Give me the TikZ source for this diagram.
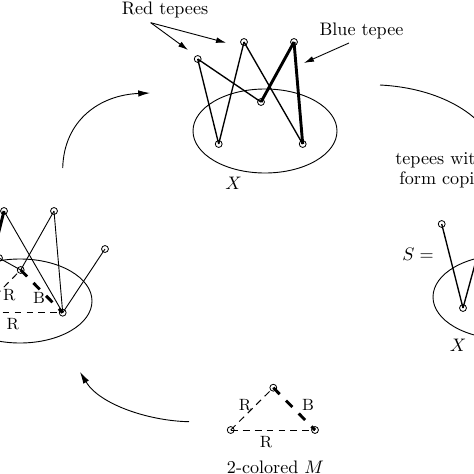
\documentclass[tikz,border=0pt]{standalone}
\usepackage{amsmath,amssymb}
\usetikzlibrary{arrows.meta}

\tikzset{
  vtx/.style={circle, draw, line width=0.45pt, inner sep=0pt, minimum size=3.8pt},
  redleg/.style={line width=0.75pt},
  thinleg/.style={line width=0.5pt},
  blueleg/.style={line width=1.6pt},
  redpair/.style={line width=0.55pt, dash pattern=on 3.8pt off 2.8pt},
  bluepair/.style={line width=1.6pt, dash pattern=on 5pt off 5pt},
  base/.style={line width=0.5pt},
  flow/.style={line width=0.5pt, -{Latex[length=6.5pt,width=3.6pt]}},
  pointer/.style={line width=0.5pt, -{Latex[length=5.5pt,width=3.2pt]}},
  lbl/.style={inner sep=0pt, anchor=base},
  col/.style={inner sep=0pt, anchor=base, font=\small},
}

\begin{document}
\begin{tikzpicture}[x=0.552pt, y=-0.552pt]
    \useasboundingbox (0,0) rectangle (474,474);
    \clip (0,0) rectangle (474,474);
    % Top: the tepees over X
    \draw[base] (265,131) ellipse (72 and 42);
    \node[vtx] (ta) at (197.7,59) {};
    \node[vtx] (tb) at (244,42) {};
    \node[vtx] (tc) at (294,42) {};
    \node[vtx] (td) at (261,102) {};
    \node[vtx] (te) at (218.7,144) {};
    \node[vtx] (tf) at (302.7,144) {};
    \draw[redleg] (ta.center) -- (te.center);
    \draw[redleg] (ta.center) -- (td.center);
    \draw[redleg] (tb.center) -- (te.center);
    \draw[redleg] (tb.center) -- (tf.center);
    \draw[blueleg] (tc.center) -- (td.center);
    \draw[blueleg] (tc.center) -- (tf.center);
    \node[lbl] (xtop) at (233.5,189) {$X$};
    % Labels with pointers
    \node[lbl] (redlbl) at (165,15) {Red tepees};
    \node[lbl] (bluelbl) at (361.5,35.7) {Blue tepee};
    \coordinate (redtail) at (150.7,22.7);
    \coordinate (redtipa) at (188,50);
    \coordinate (redtipb) at (226,42.7);
    \coordinate (bluetail) at (349,43);
    \coordinate (bluetip) at (304,63);
    \draw[pointer] (redtail) -- (redtipa);
    \draw[pointer] (redtail) -- (redtipb);
    \draw[pointer] (bluetail) -- (bluetip);
    % Right: S
    \draw[base] (505,297) ellipse (72 and 42);
    \node[vtx] (sa) at (441.7,224) {};
    \node[vtx] (sb) at (463,308) {};
    \node[vtx] (sc) at (486,224) {};
    \draw[redleg] (sa.center) -- (sb.center);
    \draw[redleg] (sb.center) -- (sc.center);
    \node[lbl] (slbl) at (418,260) {$S =$};
    \node[lbl] (xright) at (458,351.7) {$X$};
    \node[inner sep=0pt, anchor=base west] (txta) at (395,164.5) {tepees with};
    \node[inner sep=0pt, anchor=base west] (txtb) at (399,184.5) {form copies};
    % Bottom: the 2-colored M
    \node[vtx] (mt) at (273.3,387.7) {};
    \node[vtx] (ml) at (230.7,430) {};
    \node[vtx] (mr) at (315,430) {};
    \draw[redpair] (ml.center) -- (mt.center);
    \draw[bluepair] (mt.center) -- (mr.center);
    \draw[redpair] (ml.center) -- (mr.center);
    \node[col] (mra) at (245,410) {R};
    \node[col] (mb) at (308,410) {B};
    \node[col] (mrb) at (266,447) {R};
    \node[lbl] (mlbl) at (275.5,473) {2-colored $M$};
    % Left: tepees built on M
    \draw[base] (20,301) ellipse (72 and 42);
    \node[vtx] (la) at (4,211) {};
    \node[vtx] (lb) at (54,211) {};
    \node[vtx] (lc) at (105,249) {};
    \node[vtx] (ld) at (-1,258) {};
    \node[vtx] (lt) at (20.7,270) {};
    \node[vtx] (lr) at (62.7,312.7) {};
    \node[vtx] (ll) at (-21.3,312.7) {};
    \draw[thinleg] (la.center) -- (lr.center);
    \draw[thinleg] (lb.center) -- (lt.center);
    \draw[thinleg] (lb.center) -- (lr.center);
    \draw[thinleg] (lc.center) -- (lr.center);
    \draw[thinleg] (ld.center) -- (lt.center);
    \draw[blueleg] (la.center) -- (ll.center);
    \draw[redpair] (ll.center) -- (lt.center);
    \draw[bluepair] (lt.center) -- (lr.center);
    \draw[redpair] (ll.center) -- (lr.center);
    \node[col] (lra) at (9.3,300) {R};
    \node[col] (lbb) at (39,303) {B};
    \node[col] (lrb) at (12.7,329) {R};
    % Curved arrows
    \coordinate (ua) at (62.7,168);
    \coordinate (ub) at (150,93);
    \coordinate (va) at (380,85);
    \coordinate (vb) at (500,160);
    \coordinate (wa) at (189,421.7);
    \coordinate (wb) at (80,372);
    \draw[flow] (ua) .. controls (64,120) and (100,95) .. (ub);
    \draw[flow] (va) .. controls (440,88) and (485,115) .. (vb);
    \draw[flow] (wa) .. controls (150,421) and (100,405) .. (wb);
\end{tikzpicture}
\end{document}
